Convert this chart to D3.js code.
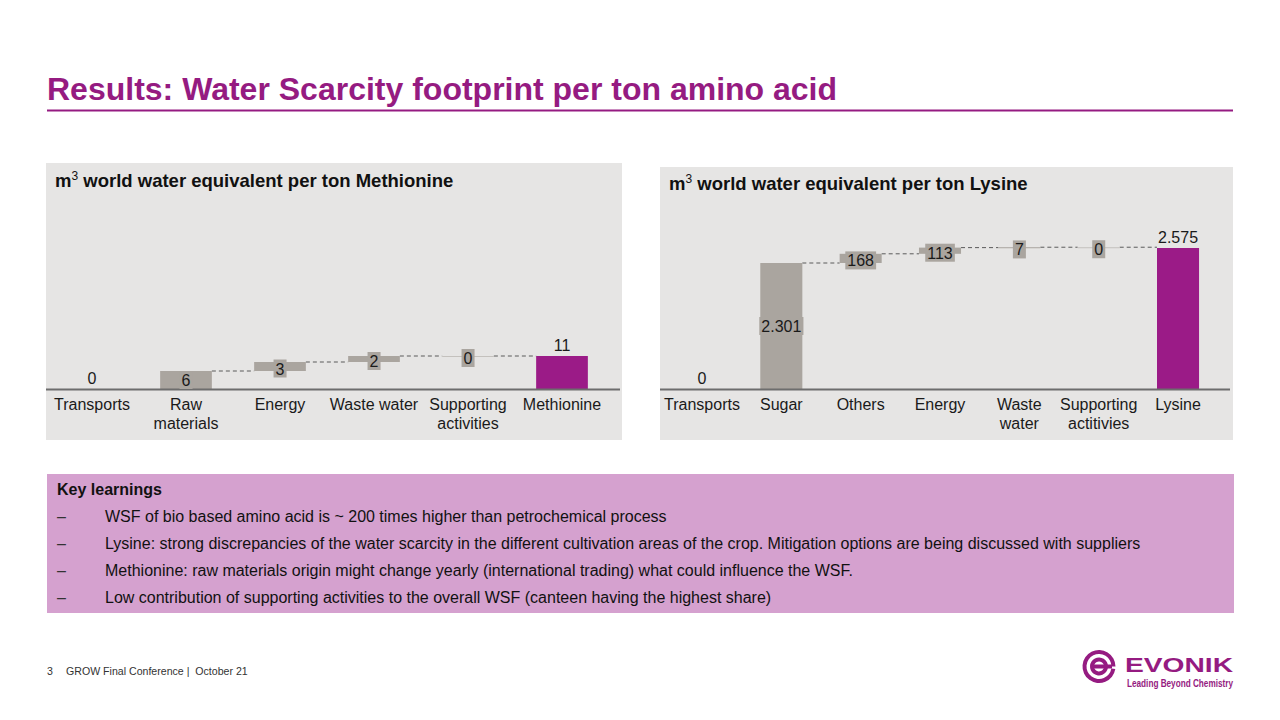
<!DOCTYPE html>
<html>
<head>
<meta charset="utf-8">
<script src="https://cdn.jsdelivr.net/npm/d3@7"></script>
<style>
  body { margin: 0; background: #fff; }
  svg { display: block; font-family: "Liberation Sans", Arial, sans-serif; }
</style>
</head>
<body>
<svg width="1280" height="720"></svg>
<script>
// Methionine waterfall
const metCategories = [["Transports"], ["Raw", "materials"], ["Energy"], ["Waste water"], ["Supporting", "activities"], ["Methionine"]];
const metValues = [0, 6, 3, 2, 0, 11];
const metLabels = ["0", "6", "3", "2", "0", "11"];

// Lysine waterfall
const lysCategories = [["Transports"], ["Sugar"], ["Others"], ["Energy"], ["Waste", "water"], ["Supporting", "actitivies"], ["Lysine"]];
const lysValues = [0, 2301, 168, 113, 7, 0, 2575];
const lysLabels = ["0", "2.301", "168", "113", "7", "0", "2.575"];

// Key learnings text
const learnings = [
  "WSF of bio based amino acid is ~ 200 times higher than petrochemical process",
  "Lysine: strong discrepancies of the water scarcity in the different cultivation areas of the crop. Mitigation options are being discussed with suppliers",
  "Methionine: raw materials origin might change yearly (international trading) what could influence the WSF.",
  "Low contribution of supporting activities to the overall WSF (canteen having the highest share)"
];

const purple = "#951b81";
const barGrey = "#aaa59f";
const svg = d3.select("svg");

// page title
svg.append("text")
  .attr("x", 47).attr("y", 100)
  .attr("fill", purple)
  .style("font-size", "32px").style("font-weight", "bold")
  .text("Results: Water Scarcity footprint per ton amino acid");
svg.append("line")
  .attr("x1", 47).attr("x2", 1233).attr("y1", 110.5).attr("y2", 110.5)
  .attr("stroke", purple).attr("stroke-width", 2);

function waterfall(opt) {
  const g = svg.append("g");
  g.append("rect")
    .attr("x", opt.box[0]).attr("y", opt.box[1])
    .attr("width", opt.box[2]).attr("height", opt.box[3])
    .attr("fill", "#e6e5e4");

  const t = g.append("text")
    .attr("x", opt.box[0] + 9).attr("y", opt.titleY)
    .style("font-size", "18.5px").style("font-weight", "bold").attr("fill", "#111");
  t.append("tspan").text("m");
  t.append("tspan").attr("dy", -7).style("font-size", "12px").style("font-weight", "normal").text("3");
  t.append("tspan").attr("dy", 7).text(" world water equivalent per ton " + opt.name);

  const n = opt.values.length;
  const x = d3.scaleBand().domain(d3.range(n)).range(opt.xRange).padding(0);
  const y = d3.scaleLinear().domain([0, opt.yMax]).range([opt.base, opt.top]);
  const bw = x.step() * opt.barFrac;

  // cumulative start / end for each bar
  let run = 0;
  const bars = opt.values.map((v, i) => {
    if (i === n - 1) return { i, v, s: 0, e: v, total: true };
    const s = run; run += v;
    return { i, v, s, e: run, total: false };
  });

  // connectors
  bars.slice(1, n - 1).forEach(b => {
    g.append("line")
      .attr("x1", x(b.i) + x.bandwidth() / 2 + bw / 2)
      .attr("x2", x(b.i + 1) + x.bandwidth() / 2 - bw / 2)
      .attr("y1", y(b.e)).attr("y2", y(b.e))
      .attr("stroke", "#5a5a5a").attr("stroke-width", 1)
      .attr("stroke-dasharray", "4,3");
  });

  // bars
  g.selectAll("rect.bar").data(bars.filter(b => b.i > 0)).enter()
    .append("rect").attr("class", "bar")
    .attr("x", d => x(d.i) + x.bandwidth() / 2 - bw / 2)
    .attr("width", bw)
    .attr("y", d => y(d.e))
    .attr("height", d => Math.max(1, y(d.s) - y(d.e)))
    .attr("fill", d => d.total ? "#9b1b87" : (d.v === 0 ? "#c4c1bd" : barGrey));

  // axis line
  g.append("line")
    .attr("x1", opt.box[0]).attr("x2", opt.axisEnd)
    .attr("y1", opt.base + 0.5).attr("y2", opt.base + 0.5)
    .attr("stroke", "#6d6d6d").attr("stroke-width", 2);

  // category labels
  bars.forEach(b => {
    const lbl = g.append("text")
      .attr("x", x(b.i) + x.bandwidth() / 2)
      .attr("y", opt.base + 21)
      .attr("text-anchor", "middle")
      .style("font-size", "16px").attr("fill", "#1a1a1a");
    opt.cats[b.i].forEach((line, k) => {
      lbl.append("tspan").attr("x", x(b.i) + x.bandwidth() / 2)
        .attr("dy", k === 0 ? 0 : 19).text(line);
    });
  });

  // value labels
  bars.forEach(b => {
    const cx = x(b.i) + x.bandwidth() / 2;
    let cy;
    if (b.total) cy = y(b.e) - 11;
    else if (b.i === 0) cy = opt.base - 11;
    else cy = (y(b.s) + y(b.e)) / 2 + (y(b.s) - y(b.e) < 12 ? 2 : 0);
    const lg = g.append("g");
    const txt = lg.append("text")
      .attr("x", cx).attr("y", cy + 6)
      .attr("text-anchor", "middle")
      .style("font-size", "16px").attr("fill", "#1a1a1a")
      .text(opt.labels[b.i]);
    if (!b.total && b.i > 0) {
      const bb = txt.node().getBBox();
      lg.insert("rect", "text")
        .attr("x", bb.x - 2).attr("y", cy - 9)
        .attr("width", bb.width + 4).attr("height", 18)
        .attr("fill", barGrey);
    }
  });
}

waterfall({
  name: "Methionine", box: [46, 163, 576, 277], titleY: 187,
  values: metValues, labels: metLabels, cats: metCategories,
  xRange: [45, 609], barFrac: 0.55, base: 389, top: 356, yMax: 11, axisEnd: 620
});
waterfall({
  name: "Lysine", box: [660, 167, 573, 273], titleY: 190,
  values: lysValues, labels: lysLabels, cats: lysCategories,
  xRange: [662.3, 1217.7], barFrac: 0.53, base: 389, top: 248, yMax: 2575, axisEnd: 1230
});

// key learnings box
svg.append("rect")
  .attr("x", 47).attr("y", 474).attr("width", 1187).attr("height", 139)
  .attr("fill", "#d5a1cf");
svg.append("text")
  .attr("x", 57).attr("y", 495)
  .style("font-size", "16px").style("font-weight", "bold").attr("fill", "#111")
  .text("Key learnings");
learnings.forEach((s, i) => {
  const yy = 522 + i * 27;
  svg.append("text").attr("x", 57).attr("y", yy)
    .style("font-size", "16px").attr("fill", "#333").text("\u2013");
  svg.append("text").attr("x", 105).attr("y", yy)
    .style("font-size", "16px").attr("fill", "#111").text(s);
});

// footer
svg.append("text").attr("x", 47).attr("y", 675)
  .style("font-size", "10.6px").attr("fill", "#333").text("3");
svg.append("text").attr("x", 66).attr("y", 675)
  .style("font-size", "10.6px").attr("fill", "#333")
  .text("GROW Final Conference |\u00a0 October 21");

// logo
const logo = svg.append("g").attr("transform", "translate(1099,666.5)");
logo.append("path")
  .attr("d", d3.arc()({ innerRadius: 12.5, outerRadius: 16.5, startAngle: 0.55 * Math.PI, endAngle: 2.5 * Math.PI }))
  .attr("fill", purple);
logo.append("path")
  .attr("d", d3.arc()({ innerRadius: 5, outerRadius: 9, startAngle: 0.55 * Math.PI, endAngle: 2.5 * Math.PI }))
  .attr("fill", purple);
logo.append("rect").attr("x", -7).attr("y", -2).attr("width", 20).attr("height", 4).attr("fill", purple);
svg.append("text")
  .attr("x", 1125).attr("y", 672)
  .attr("textLength", 108).attr("lengthAdjust", "spacingAndGlyphs")
  .style("font-size", "20px").style("font-weight", "bold").attr("fill", purple)
  .text("EVONIK");
svg.append("text")
  .attr("x", 1127).attr("y", 687)
  .attr("textLength", 106).attr("lengthAdjust", "spacingAndGlyphs")
  .style("font-size", "10.5px").style("font-weight", "bold").attr("fill", purple)
  .text("Leading Beyond Chemistry");
</script>
</body>
</html>
